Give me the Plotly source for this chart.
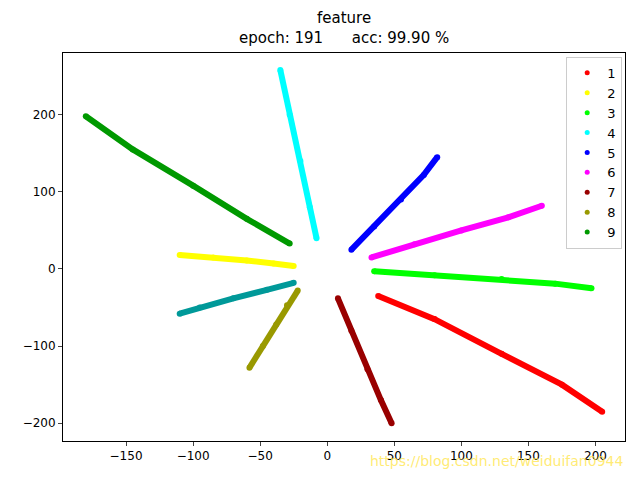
import plotly.graph_objects as go

# streak sample points per class
labels = ['0', '1', '2', '3', '4', '5', '6', '7', '8', '9']
colors = ['#009999', '#ff0000', '#ffff00', '#00ff00', '#00ffff',
          '#0000ff', '#ff00ff', '#990000', '#999900', '#009900']
xs = [
    [-110, -95, -70, -45, -25],
    [38, 80, 130, 175, 205],
    [-110, -85, -60, -40, -25],
    [35, 80, 130, 170, 197],
    [-35, -28, -20, -13, -8],
    [18, 35, 55, 72, 82],
    [33, 65, 100, 135, 160],
    [8, 18, 30, 40, 48],
    [-58, -48, -38, -30, -22],
    [-180, -145, -100, -60, -28],
]
ys = [
    [-58, -50, -38, -27, -18],
    [-35, -65, -110, -150, -185],
    [18, 15, 11, 7, 4],
    [-3, -8, -13, -19, -25],
    [258, 200, 140, 80, 40],
    [25, 55, 90, 122, 145],
    [15, 32, 50, 67, 82],
    [-38, -80, -130, -170, -200],
    [-128, -100, -72, -47, -28],
    [198, 155, 108, 65, 33],
]

fig = go.Figure()
for i in range(10):
    fig.add_trace(go.Scatter(
        x=xs[i], y=ys[i], mode='lines+markers',
        line=dict(color=colors[i], width=6),
        marker=dict(color=colors[i], size=6),
        showlegend=False, hoverinfo='skip'))
# legend entries (class 0 is not in the legend)
for i in range(1, 10):
    fig.add_trace(go.Scatter(
        x=[None], y=[None], mode='markers', name=labels[i],
        marker=dict(color=colors[i], size=5)))

fig.update_layout(
    width=640, height=480,
    paper_bgcolor='white', plot_bgcolor='white',
    margin=dict(l=55, r=23, t=45, b=47, autoexpand=False),
    font=dict(family='DejaVu Sans', size=12, color='black'),
    xaxis=dict(range=[-197, 222], tickvals=[-150, -100, -50, 0, 50, 100, 150, 200],
               showgrid=False, zeroline=False, showline=True, mirror=True,
               linecolor='black', ticks='outside', ticklen=4, automargin=False),
    yaxis=dict(range=[-223, 280], tickvals=[-200, -100, 0, 100, 200],
               showgrid=False, zeroline=False, showline=True, mirror=True,
               linecolor='black', ticks='outside', ticklen=4, automargin=False),
    legend=dict(x=0.995, y=0.99, xanchor='right', yanchor='top',
                bordercolor='#cccccc', borderwidth=1, font=dict(size=13),
                tracegroupgap=0),
    annotations=[
        dict(text='feature<br>epoch: 191      acc: 99.90 %', xref='paper', yref='paper',
             x=0.5, y=1.0, yshift=4, xanchor='center', yanchor='bottom', showarrow=False,
             font=dict(size=15)),
        dict(text='https://blog.csdn.net/weiduifan0944', xref='paper', yref='paper',
             x=1.0, y=0, yshift=-30, xanchor='right', yanchor='bottom', showarrow=False,
             font=dict(size=14, color='rgba(255,230,80,0.8)')),
    ],
)

fig.write_html("out.html")
